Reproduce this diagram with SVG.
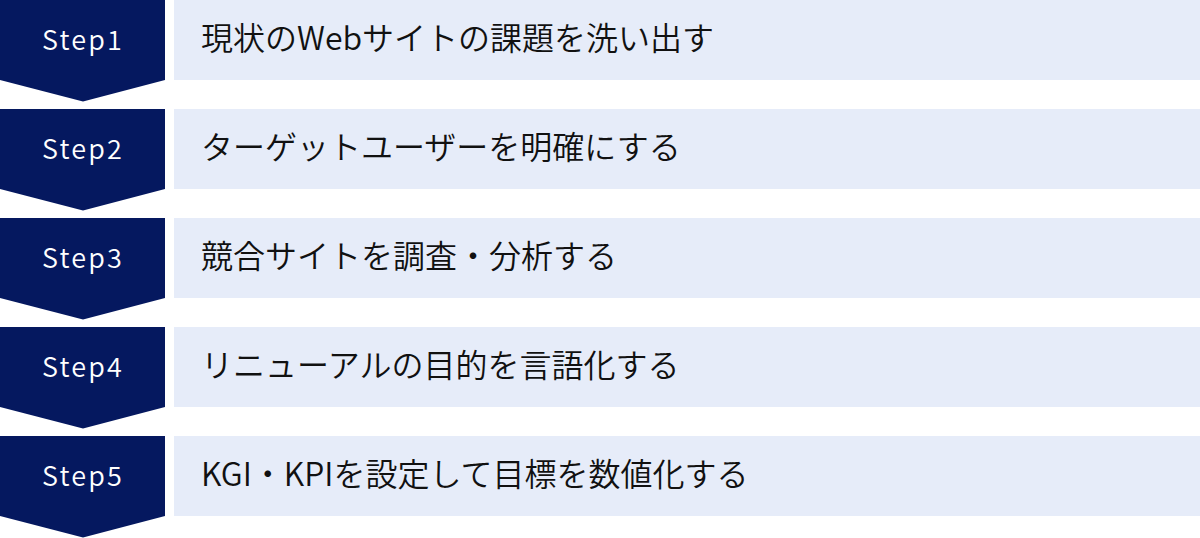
<svg xmlns="http://www.w3.org/2000/svg" width="1200" height="538" viewBox="0 0 1200 538">
<style>
.chev{fill:#05185f}
.bar{fill:#e6ecf9}
.step{font-family:"Noto Sans CJK JP","Noto Sans",sans-serif;font-size:27px;font-weight:350;fill:#ffffff;letter-spacing:2.2px}
.label{font-family:"Noto Sans CJK JP",sans-serif;font-size:32px;font-weight:350;fill:#111111}
</style>
<rect width="1200" height="538" fill="#ffffff"/>
<g id="step1" transform="translate(0,0)">
<polygon class="chev" points="0,0 165,0 165,80 83,101.5 0,80"/>
<rect class="bar" x="174" y="0" width="1026" height="80"/>
<text class="step" x="83" y="50" text-anchor="middle">Step1</text>
<text class="label" x="201" y="50">現状のWebサイトの課題を洗い出す</text>
</g>
<g id="step2" transform="translate(0,109)">
<polygon class="chev" points="0,0 165,0 165,80 83,101.5 0,80"/>
<rect class="bar" x="174" y="0" width="1026" height="80"/>
<text class="step" x="83" y="50" text-anchor="middle">Step2</text>
<text class="label" x="201" y="50">ターゲットユーザーを明確にする</text>
</g>
<g id="step3" transform="translate(0,218)">
<polygon class="chev" points="0,0 165,0 165,80 83,101.5 0,80"/>
<rect class="bar" x="174" y="0" width="1026" height="80"/>
<text class="step" x="83" y="50" text-anchor="middle">Step3</text>
<text class="label" x="201" y="50">競合サイトを調査・分析する</text>
</g>
<g id="step4" transform="translate(0,327)">
<polygon class="chev" points="0,0 165,0 165,80 83,101.5 0,80"/>
<rect class="bar" x="174" y="0" width="1026" height="80"/>
<text class="step" x="83" y="50" text-anchor="middle">Step4</text>
<text class="label" x="201" y="50">リニューアルの目的を言語化する</text>
</g>
<g id="step5" transform="translate(0,436)">
<polygon class="chev" points="0,0 165,0 165,80 83,101.5 0,80"/>
<rect class="bar" x="174" y="0" width="1026" height="80"/>
<text class="step" x="83" y="50" text-anchor="middle">Step5</text>
<text class="label" x="201" y="50">KGI・KPIを設定して目標を数値化する</text>
</g>
<g id="connectors"></g>
</svg>
